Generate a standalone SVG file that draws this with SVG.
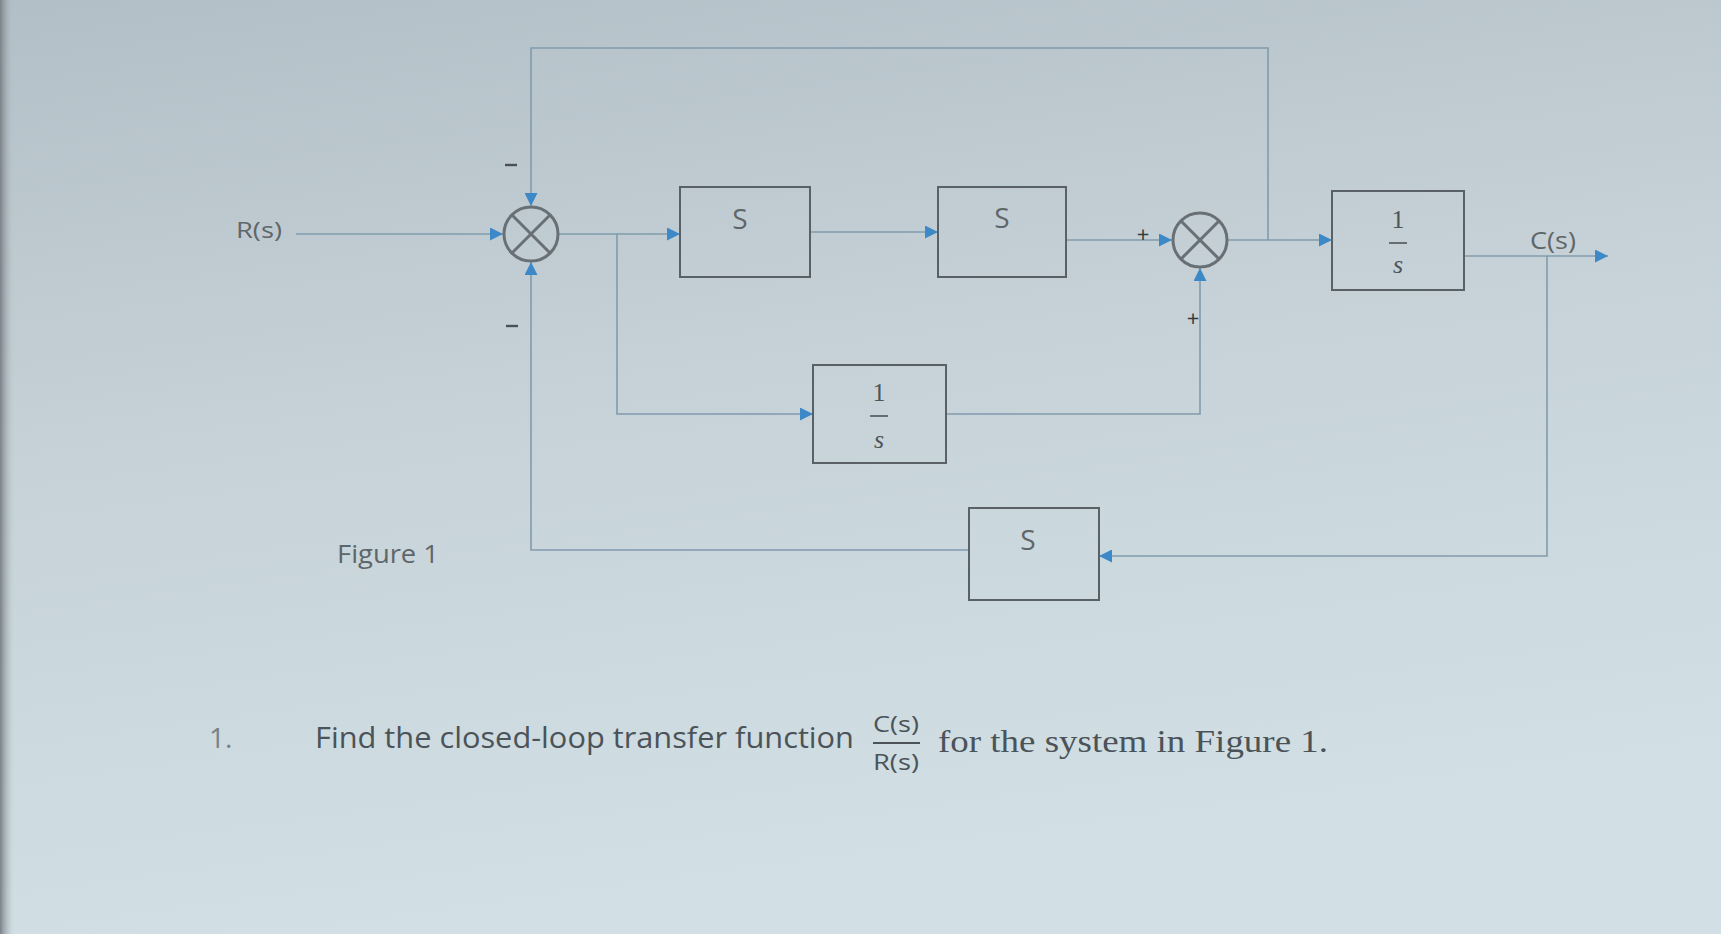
<svg xmlns="http://www.w3.org/2000/svg" width="1721" height="934" viewBox="0 0 1721 934">
<defs>
<linearGradient id="bg" x1="0" y1="0" x2="0.25" y2="1">
<stop offset="0" stop-color="#b3bfc6"/>
<stop offset="0.45" stop-color="#c5d1d7"/>
<stop offset="1" stop-color="#d2e0e5"/>
</linearGradient>
<linearGradient id="edge" x1="0" y1="0" x2="1" y2="0">
<stop offset="0" stop-color="#7a8287"/>
<stop offset="1" stop-color="#b8c3c9" stop-opacity="0"/>
</linearGradient>
<marker id="arr" markerUnits="userSpaceOnUse" markerWidth="13" markerHeight="13" refX="13" refY="6.5" orient="auto">
<path d="M0,0 L13,6.5 L0,13 z" fill="#3d88c6"/>
</marker>
<style>
.wire{fill:none;stroke:#819bad;stroke-width:1.6}
.box{fill:none;stroke:#5a6166;stroke-width:2}
.sum{fill:none;stroke:#687075;stroke-width:3}
.sign{stroke:#4a5054;stroke-width:2.4}
.lbl{font-family:"Open Sans","Liberation Sans",sans-serif;fill:#5f6669}
.math{font-family:"Liberation Serif",serif;fill:#4e5558}
.q{font-family:"Open Sans","Liberation Sans",sans-serif;fill:#4b5358}
</style>
</defs>
<rect width="1721" height="934" fill="url(#bg)"/>
<rect width="14" height="934" fill="url(#edge)"/>

<g id="connectors">
<path class="wire" d="M296 234 L503 234" marker-end="url(#arr)"/>
<path class="wire" d="M559 234 L680 234" marker-end="url(#arr)"/>
<path class="wire" d="M617 234 L617 414 L813 414" marker-end="url(#arr)"/>
<path class="wire" d="M810 232 L938 232" marker-end="url(#arr)"/>
<path class="wire" d="M1066 240 L1172 240" marker-end="url(#arr)"/>
<path class="wire" d="M946 414 L1200 414 L1200 268" marker-end="url(#arr)"/>
<path class="wire" d="M1228 240 L1332 240" marker-end="url(#arr)"/>
<path class="wire" d="M1268 240 L1268 48 L531 48 L531 206" marker-end="url(#arr)"/>
<path class="wire" d="M1464 256 L1608 256" marker-end="url(#arr)"/>
<path class="wire" d="M1547 256 L1547 556 L1099 556" marker-end="url(#arr)"/>
<path class="wire" d="M969 550 L531 550 L531 262" marker-end="url(#arr)"/>
</g>

<g id="sum1">
<circle class="sum" cx="531" cy="234" r="27"/>
<path class="sum" d="M512 215 L550 253 M550 215 L512 253"/>
<line class="sign" x1="505" y1="165" x2="517" y2="165"/>
<line class="sign" x1="506" y1="326" x2="518" y2="326"/>
</g>

<g id="sum2">
<circle class="sum" cx="1200" cy="240" r="27"/>
<path class="sum" d="M1181 221 L1219 259 M1219 221 L1181 259"/>
<text class="lbl" x="1143" y="242" font-size="22" text-anchor="middle" style="fill:#33393c">+</text>
<text class="lbl" x="1193" y="326" font-size="22" text-anchor="middle" style="fill:#33393c">+</text>
</g>

<g id="blockS1">
<rect class="box" x="680" y="187" width="130" height="90"/>
<text class="lbl" x="740" y="229" font-size="28" text-anchor="middle">S</text>
</g>

<g id="blockS2">
<rect class="box" x="938" y="187" width="128" height="90"/>
<text class="lbl" x="1002" y="228" font-size="28" text-anchor="middle">S</text>
</g>

<g id="blockInt1">
<rect class="box" x="1332" y="191" width="132" height="99"/>
<text class="math" x="1398" y="228" font-size="26" text-anchor="middle">1</text>
<line x1="1389" y1="243" x2="1407" y2="243" stroke="#4e5558" stroke-width="1.6"/>
<text class="math" x="1398" y="273" font-size="26" font-style="italic" text-anchor="middle">s</text>
</g>

<g id="blockInt2">
<rect class="box" x="813" y="365" width="133" height="98"/>
<text class="math" x="879" y="401" font-size="26" text-anchor="middle">1</text>
<line x1="870" y1="416" x2="888" y2="416" stroke="#4e5558" stroke-width="1.6"/>
<text class="math" x="879" y="448" font-size="26" font-style="italic" text-anchor="middle">s</text>
</g>

<g id="blockS3">
<rect class="box" x="969" y="508" width="130" height="92"/>
<text class="lbl" x="1028" y="550" font-size="28" text-anchor="middle">S</text>
</g>

<g id="labels">
<text class="lbl" x="236" y="238" font-size="22" textLength="46" lengthAdjust="spacingAndGlyphs">R(s)</text>
<text class="lbl" x="1530" y="249" font-size="24" textLength="46" lengthAdjust="spacingAndGlyphs">C(s)</text>
<text class="lbl" x="337" y="563" font-size="26" textLength="102" lengthAdjust="spacingAndGlyphs">Figure 1</text>
</g>

<g id="question">
<text class="q" x="209" y="748" font-size="28" style="fill:#7a8287">1.</text>
<text class="q" x="315" y="748" font-size="30" textLength="539" lengthAdjust="spacingAndGlyphs">Find the closed-loop transfer function</text>
<text class="q" x="896" y="732" font-size="22" text-anchor="middle" textLength="46" lengthAdjust="spacingAndGlyphs">C(s)</text>
<line x1="873" y1="743" x2="920" y2="743" stroke="#4b5358" stroke-width="1.8"/>
<text class="q" x="896" y="770" font-size="22" text-anchor="middle" textLength="46" lengthAdjust="spacingAndGlyphs">R(s)</text>
<text class="math" x="938" y="752" font-size="32" textLength="390" lengthAdjust="spacingAndGlyphs" style="fill:#4b5358">for the system in Figure 1.</text>
</g>
</svg>
